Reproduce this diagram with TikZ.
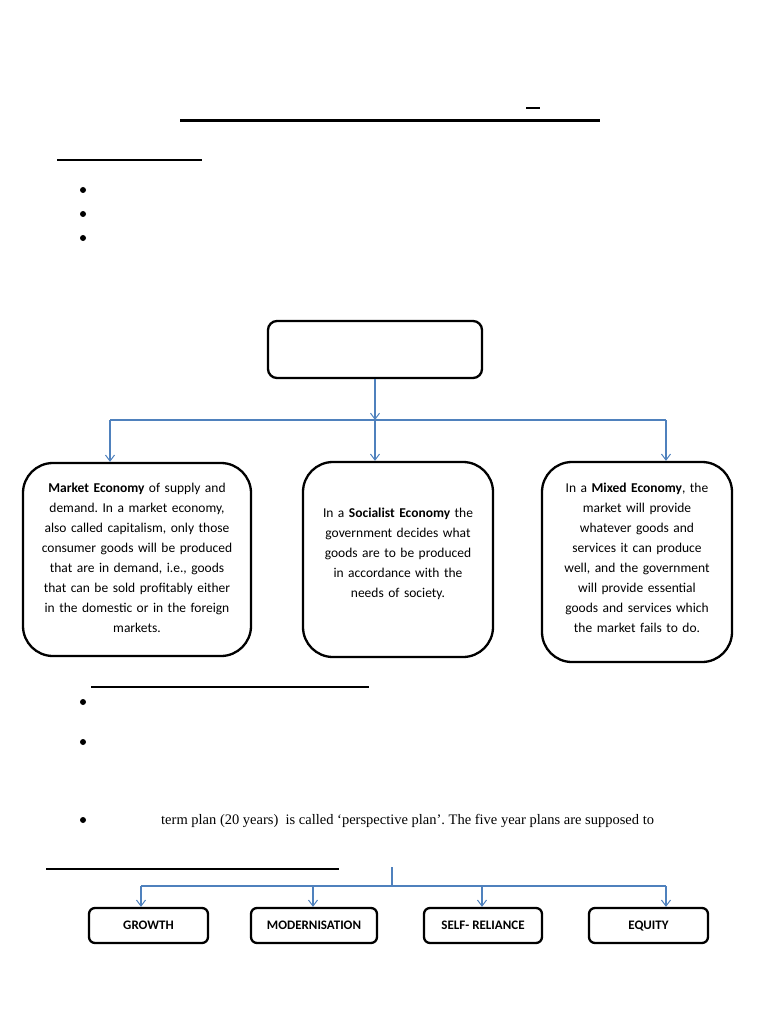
\documentclass[tikz,border=0pt]{standalone}
\usepackage{fontspec}
\setmainfont{Carlito}
\newfontfamily\timesfont{Liberation Serif}
\usetikzlibrary{arrows.meta}
\definecolor{linkblue}{RGB}{79,129,189}
\frenchspacing
\begin{document}
\begin{tikzpicture}[x=1pt,y=-1pt,
  blueline/.style={draw=linkblue,line width=1.1pt},
  bluearrow/.style={blueline,-{Straight Barb[length=6pt,width=9pt,line width=1pt]}},
  bigbox/.style={draw,line width=2.3pt,rounded corners=30pt,align=center,inner sep=0pt,font=\fontsize{13.5}{20}\selectfont},
  smallbox/.style={draw,line width=2.3pt,rounded corners=6pt,inner sep=0pt,minimum height=35pt,text height=9pt,text depth=2pt,font=\fontsize{13}{14}\selectfont\bfseries},
  bulletdot/.style={circle,fill=black,inner sep=0pt,minimum size=6pt},
  rule/.style={line width=#1}
]
\useasboundingbox (0,0) rectangle (768,1024);
% heading rules
\draw[rule=3pt] (180,121) -- (600,121);
\draw[rule=2pt] (526,108) -- (540,108);
\draw[rule=2pt] (57,160) -- (202,160);
\node[bulletdot] (b1) at (83,190) {};
\node[bulletdot] (b2) at (83,214) {};
\node[bulletdot] (b3) at (83,238) {};
% top box
\node[draw,line width=2.3pt,rounded corners=9pt,minimum width=214pt,minimum height=57pt] (top) at (375,349.5) {};
% three boxes
\node[bigbox,minimum width=228pt,minimum height=193pt,text width=210pt] (market) at (137,559.5)
 {\textbf{Market Economy} of supply and\\ demand. In a market economy,\\ also called capitalism, only those\\ consumer goods will be produced\\ that are in demand, i.e., goods\\ that can be sold profitably either\\ in the domestic or in the foreign\\ markets.\\[-16pt]\mbox{}};
\node[bigbox,minimum width=190pt,minimum height=195pt,text width=180pt] (social) at (398,559.5)
 {In a \textbf{Socialist Economy} the\\ government decides what\\ goods are to be produced\\ in accordance with the\\ needs of society.\\[-6pt]\mbox{}};
\node[bigbox,minimum width=190pt,minimum height=200pt,text width=180pt] (mixed) at (637,562)
 {In a \textbf{Mixed Economy}, the\\ market will provide\\ whatever goods and\\ services it can produce\\ well, and the government\\ will provide essential\\ goods and services which\\ the market fails to do.\\[-12pt]\mbox{}};
% connectors
\coordinate (j) at (375,420);
\coordinate (jl) at (110,420);
\coordinate (jr) at (666,420);
\draw[bluearrow] (top.south) -- (j);
\draw[blueline] (jl) -- (jr);
\draw[bluearrow] (jl) -- (jl |- market.north);
\draw[bluearrow] (j) -- (j |- social.north);
\draw[bluearrow] (jr) -- (jr |- mixed.north);
% middle section
\draw[rule=1.3pt] (91,687) -- (369,687);
\node[bulletdot] (b4) at (83,702) {};
\node[bulletdot] (b5) at (83,742) {};
\node[bulletdot] (b6) at (83,820) {};
\node[anchor=base west,inner sep=0pt,font=\timesfont\fontsize{14.5}{16}\selectfont] (termtext) at (161,824)
 {term plan (20 years)\ \ is called ‘perspective plan’. The five year plans are supposed to};
% bottom section
\draw[rule=2.5pt] (46,869) -- (339,869);
\node[smallbox,minimum width=119pt] (growth) at (148.5,925.5) {GROWTH};
\node[smallbox,minimum width=126pt] (modern) at (314,925.5) {MODERNISATION};
\node[smallbox,minimum width=118pt] (self) at (483,925.5) {SELF- RELIANCE};
\node[smallbox,minimum width=119pt] (equity) at (648.5,925.5) {EQUITY};
\coordinate (bs) at (392,867);
\coordinate (bj) at (392,886);
\coordinate (g1) at (141,886);
\coordinate (g2) at (313,886);
\coordinate (g3) at (482,886);
\coordinate (g4) at (666,886);
\draw[blueline] (bs) -- (bj);
\draw[blueline] (g1) -- (g4);
\draw[bluearrow] (g1) -- (g1 |- growth.north);
\draw[bluearrow] (g2) -- (g2 |- modern.north);
\draw[bluearrow] (g3) -- (g3 |- self.north);
\draw[bluearrow] (g4) -- (g4 |- equity.north);
\end{tikzpicture}
\end{document}
